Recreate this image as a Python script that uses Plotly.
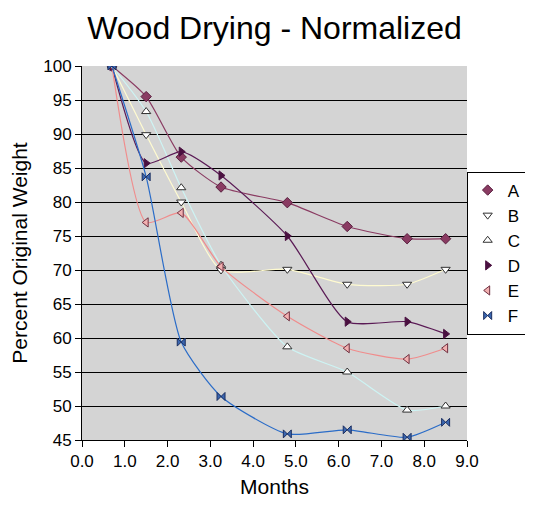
import plotly.graph_objs as go

# months since start for every sample
months = [0.7, 1.5, 2.32, 3.25, 4.8, 6.2, 7.6, 8.5]

# percent of original weight per piece of wood
series_names = ["A", "B", "C", "D", "E", "F"]
weight_a = [100, 95.5, 86.6, 82.2, 79.9, 76.4, 74.6, 74.6]
weight_b = [100, 89.9, 80.0, 70.0, 70.1, 67.9, 67.9, 70.1]
weight_c = [100, 93.3, 82.1, 70.7, 58.7, 55.0, 49.4, 50.0]
weight_d = [100, 85.7, 87.4, 83.9, 75.0, 62.4, 62.4, 60.6]
weight_e = [100, 77.0, 78.4, 70.5, 63.2, 58.5, 56.9, 58.5]
weight_f = [100, 83.7, 59.4, 51.4, 45.9, 46.5, 45.4, 47.6]

y_ticks = list(range(45, 101, 5))
x_ticks = [0, 1, 2, 3, 4, 5, 6, 7, 8, 9]

# line colour, marker symbol, marker fill, marker outline
styles = [
    ("#8a3b62", "diamond", "#8a3b62", "#5a2040"),
    ("#fffbd0", "triangle-down", "white", "#303030"),
    ("#cdf4f4", "triangle-up", "white", "#303030"),
    ("#5a1a55", "triangle-right", "#4a1040", "#4a1040"),
    ("#f08c8c", "triangle-left", "#f2b0b0", "#703040"),
    ("#2a6cc8", "bowtie", "#3a66b0", "#1c2f60"),
]

all_weights = [weight_a, weight_b, weight_c, weight_d, weight_e, weight_f]

fig = go.Figure()

for name, weights, (line_col, symbol, fill, outline) in zip(series_names, all_weights, styles):
    marker = dict(symbol=symbol, size=8, color=fill, line=dict(color=outline, width=1))
    fig.add_trace(go.Scatter(
        x=months,
        y=weights,
        name=name,
        legendgroup=name,
        showlegend=False,
        mode="lines+markers",
        line=dict(color=line_col, width=1.2, shape="spline", smoothing=0.6),
        marker=marker,
    ))
    # legend entry shows the marker only, like the original
    fig.add_trace(go.Scatter(
        x=[None], y=[None], name=name, legendgroup=name,
        mode="markers", marker=marker,
    ))

# the page body adds an 8px offset, margins account for it
fig.update_layout(
    width=533,
    height=517,
    paper_bgcolor="white",
    plot_bgcolor="#d4d4d4",
    font=dict(family="Liberation Sans, Arial, sans-serif", color="black", size=17),
    margin=dict(l=74, r=74, t=58, b=85, autoexpand=False),
    title=dict(
        text="Wood Drying - Normalized",
        x=0.5,
        xanchor="center",
        y=0.962,
        yanchor="middle",
        font=dict(size=32),
    ),
    showlegend=True,
    legend=dict(
        x=1.155,
        xanchor="right",
        y=0.5,
        yanchor="middle",
        bgcolor="white",
        bordercolor="black",
        borderwidth=1,
        font=dict(size=17),
        itemwidth=30,
        tracegroupgap=0,
    ),
)

fig.update_xaxes(
    range=[0, 9],
    tickvals=x_ticks,
    tickformat=".1f",
    ticks="outside",
    ticklen=6,
    tickcolor="black",
    showline=True,
    linecolor="black",
    linewidth=1,
    showgrid=False,
    zeroline=False,
    title=dict(text="Months", font=dict(size=21), standoff=8),
)
fig.update_yaxes(
    range=[45, 100],
    tickvals=y_ticks,
    ticks="outside",
    ticklen=6,
    tickcolor="black",
    showline=True,
    linecolor="black",
    linewidth=1,
    showgrid=True,
    gridcolor="black",
    gridwidth=1,
    zeroline=False,
    title=dict(text="Percent Original Weight", font=dict(size=21), standoff=14),
)

fig.write_html("out.html")
